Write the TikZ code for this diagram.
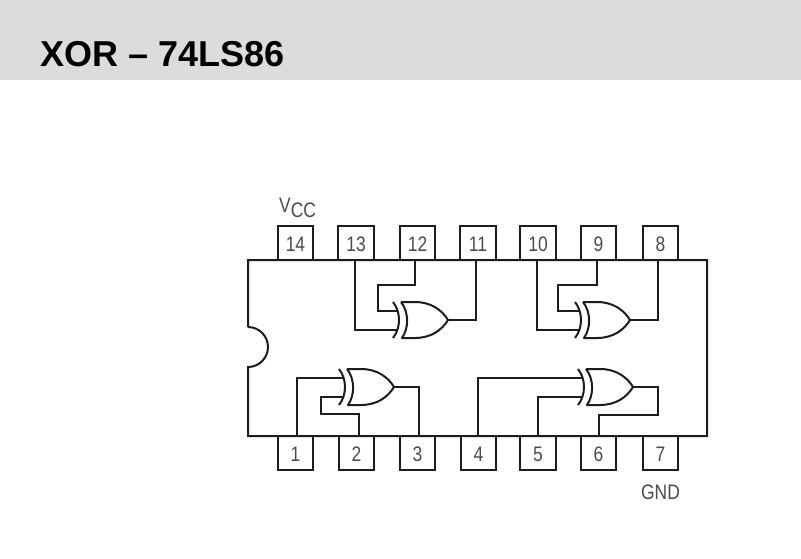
\documentclass[tikz,border=0pt]{standalone}
\usepackage{fontspec}
\setmainfont{Liberation Sans}
\newfontfamily\pinfont[FakeStretch=0.83]{Liberation Sans}
\definecolor{bandgray}{HTML}{DCDCDC}
\definecolor{linegray}{HTML}{1C1C1C}
\definecolor{textgray}{HTML}{4A4A4A}
\tikzset{
  pinbox/.style={draw=linegray, line width=2pt, minimum width=35.5pt, minimum height=34pt, inner sep=0pt, outer sep=0pt, text height=16.7pt, text depth=0pt, text=textgray, font=\pinfont\fontsize{21}{21}\selectfont},
  pinname/.style={inner sep=0pt, text=textgray, font=\pinfont\fontsize{21}{21}\selectfont},
  wire/.style={draw=linegray, line width=2pt},
  xorgate/.pic={
    \draw[wire, line join=round] (0,0) -- (14,0) .. controls (30,0) and (41,8) .. (47,18) .. controls (41,28) and (30,36) .. (14,36) -- (1,36) .. controls (8,26) and (8,10) .. (0,0);
    \draw[wire] (-8,0) .. controls (0,10) and (0,26) .. (-8,36);
    \coordinate (-a) at (-3,8.5);
    \coordinate (-b) at (-3,27.5);
    \coordinate (-out) at (47,18);
  }
}
\begin{document}
\begin{tikzpicture}[x=1pt,y=-1pt]
\useasboundingbox (0,0) rectangle (801,558);
\fill[bandgray] (0,0) rectangle (801,80);
\node[anchor=base west, inner sep=0pt, font=\bfseries\fontsize{36}{36}\selectfont] (title) at (40.5,66) {XOR -- 74LS86};
% package
\draw[wire, line join=miter] (248,327) -- (248,260) -- (707,260) -- (707,436) -- (248,436) -- (248,367) arc[start angle=90, end angle=-90, radius=20];
% pins
\node[pinbox] (pin14) at (295.5,243) {14};
\node[pinbox] (pin13) at (356,243) {13};
\node[pinbox] (pin12) at (417.5,243) {12};
\node[pinbox] (pin11) at (478,243) {11};
\node[pinbox] (pin10) at (538,243) {10};
\node[pinbox] (pin9) at (598.5,243) {9};
\node[pinbox] (pin8) at (660.5,243) {8};
\node[pinbox] (pin1) at (295.5,453) {1};
\node[pinbox] (pin2) at (356.5,453) {2};
\node[pinbox] (pin3) at (417.5,453) {3};
\node[pinbox] (pin4) at (478.5,453) {4};
\node[pinbox] (pin5) at (538,453) {5};
\node[pinbox] (pin6) at (598.5,453) {6};
\node[pinbox] (pin7) at (660.5,453) {7};
\node[pinname, anchor=base west] (vcc) at (279,212) {V\raisebox{-5.5pt}{CC}};
\node[pinname] (gnd) at (660.5,492) {GND};
% gates
\pic (xor1) at (401,302) {xorgate};
\pic (xor2) at (583,302) {xorgate};
\pic (xor3) at (347,369) {xorgate};
\pic (xor4) at (586,369) {xorgate};
% wires
\draw[wire] ([xshift=-1pt]pin13.south) |- (xor1-b);
\draw[wire] ([xshift=-2.5pt]pin12.south) |- (378,285) |- (xor1-a);
\draw[wire] ([xshift=-2.3pt]pin11.south) |- (xor1-out);
\draw[wire] ([xshift=-1pt]pin10.south) |- (xor2-b);
\draw[wire] ([xshift=-1.5pt]pin9.south) |- (558,285) |- (xor2-a);
\draw[wire] ([xshift=-2.8pt]pin8.south) |- (xor2-out);
\draw[wire] ([xshift=1.5pt]pin1.north) |- (xor3-a);
\draw[wire] ([xshift=2.5pt]pin2.north) |- (321,414) |- (xor3-b);
\draw[wire] ([xshift=1.5pt]pin3.north) |- (xor3-out);
\draw[wire] ([xshift=-1pt]pin4.north) |- (xor4-a);
\draw[wire] (pin5.north) |- (xor4-b);
\draw[wire] (pin6.north) |- (658,415) |- (xor4-out);
\end{tikzpicture}
\end{document}
